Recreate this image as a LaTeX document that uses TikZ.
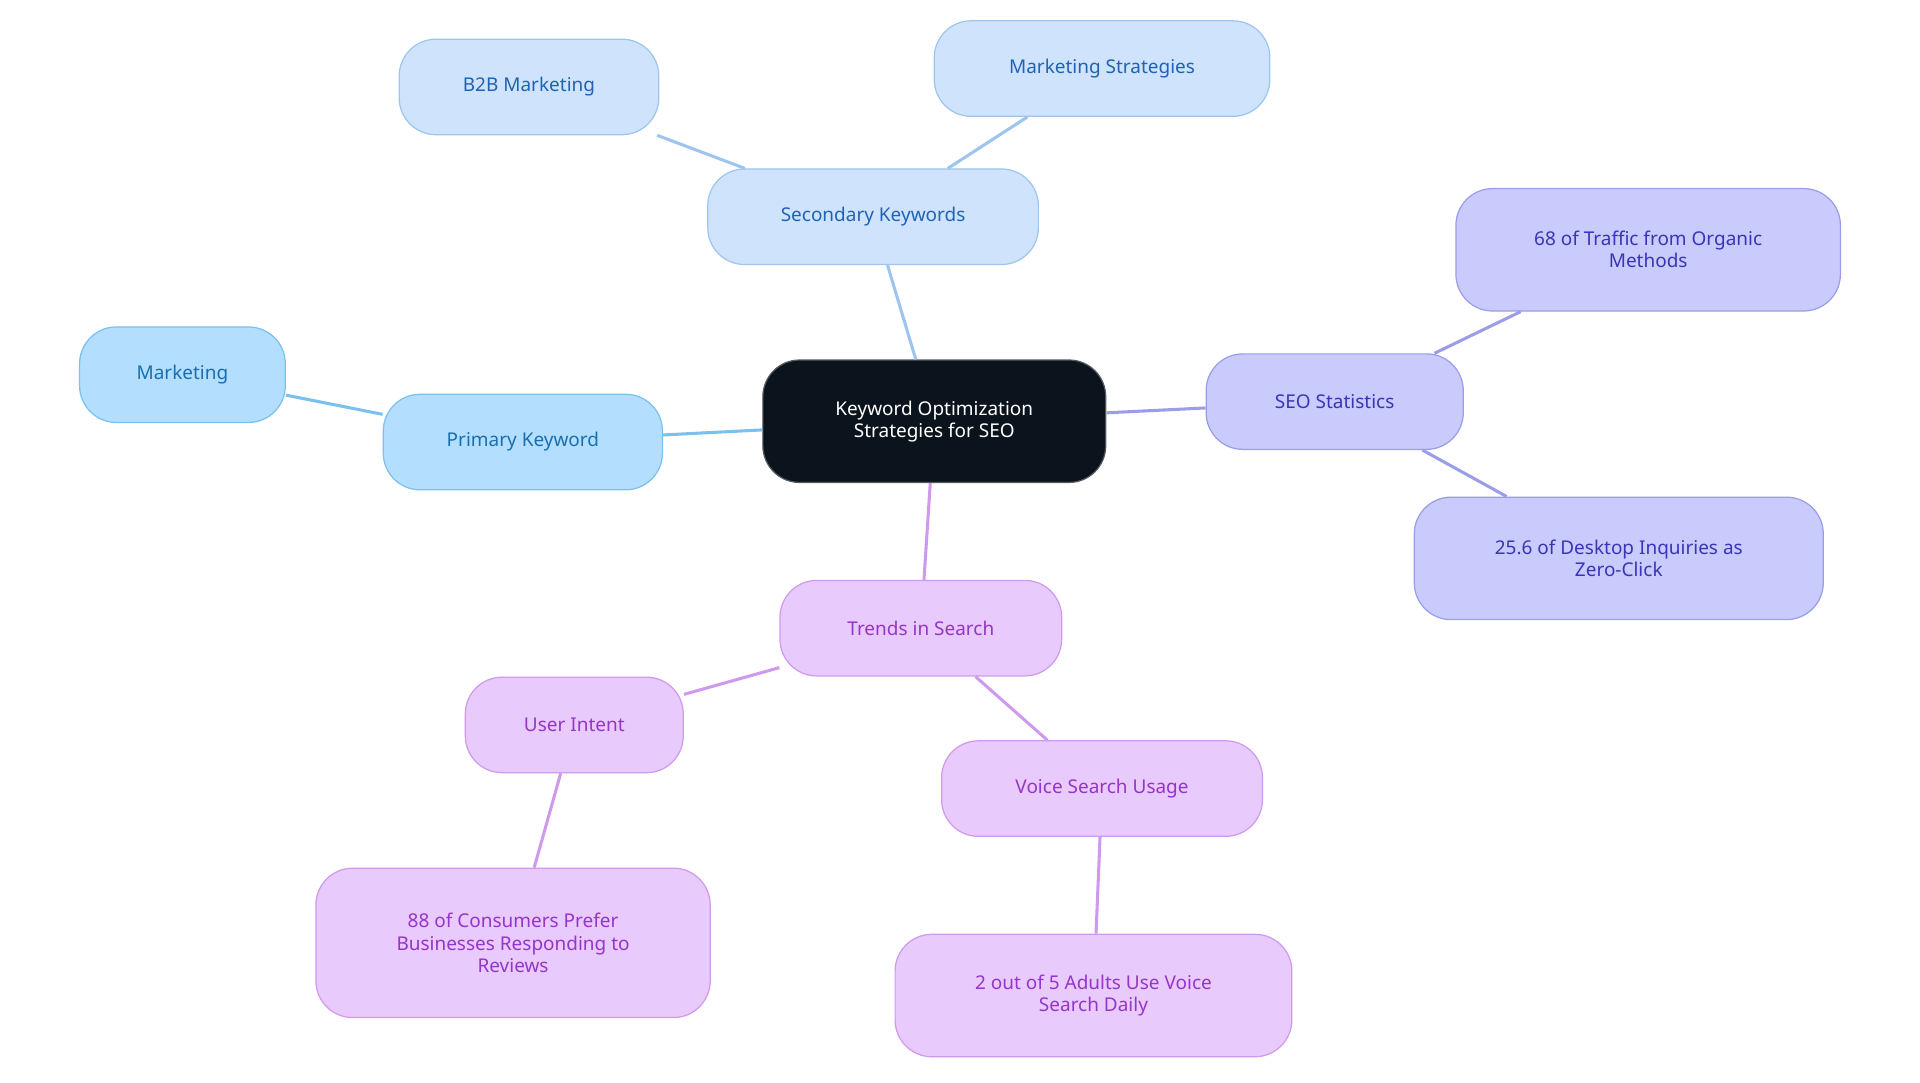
\documentclass[tikz,border=0pt]{standalone}
\usepackage{fontspec}
\setmainfont{Noto Sans}
\begin{document}
\begin{tikzpicture}[x=1pt,y=-1pt,
 base/.style={draw,line width=1pt,rounded corners=30pt,align=center,inner sep=0pt,font=\fontsize{15.5}{18}\selectfont},
 pri/.style={base,fill=priF,draw=priD,text=priT},
 sec/.style={base,fill=secF,draw=secD,text=secT},
 seo/.style={base,fill=seoF,draw=seoD,text=seoT},
 tre/.style={base,fill=treF,draw=treD,text=treT},
 ln/.style={line width=2.5pt}]
\definecolor{priF}{HTML}{B3DEFD}\definecolor{priD}{HTML}{7CC0EE}\definecolor{priT}{HTML}{1A6FB0}
\definecolor{secF}{HTML}{CFE4FC}\definecolor{secD}{HTML}{9DC5EE}\definecolor{secT}{HTML}{1F63B5}
\definecolor{seoF}{HTML}{C8CBFC}\definecolor{seoD}{HTML}{9A9DE8}\definecolor{seoT}{HTML}{3A34B8}
\definecolor{treF}{HTML}{E8CAFC}\definecolor{treD}{HTML}{CF9AEE}\definecolor{treT}{HTML}{9535C9}
\definecolor{ctr}{HTML}{0B141C}
\useasboundingbox (0,0) rectangle (1568,884);
\node[base,fill=ctr,draw=ctr!70,text=white,minimum width=280pt,minimum height=100pt] (c) at (763,344) {Keyword Optimization\\Strategies for SEO};
\node[pri,minimum width=228pt,minimum height=78pt] (p) at (427,361) {Primary Keyword};
\node[pri,minimum width=168pt,minimum height=78pt] (m) at (149,306) {Marketing};
\node[sec,minimum width=270pt,minimum height=78pt] (s) at (713,177) {Secondary Keywords};
\node[sec,minimum width=212pt,minimum height=78pt] (b) at (432,71) {B2B Marketing};
\node[sec,minimum width=274pt,minimum height=78pt] (ms) at (900,56) {Marketing Strategies};
\node[seo,minimum width=210pt,minimum height=78pt] (st) at (1090,328) {SEO Statistics};
\node[seo,minimum width=314pt,minimum height=100pt] (t68) at (1346,204) {68 of Traffic from Organic\\Methods};
\node[seo,minimum width=334pt,minimum height=100pt] (t25) at (1322,456) {25.6 of Desktop Inquiries as\\Zero-Click};
\node[tre,minimum width=230pt,minimum height=78pt] (tr) at (752,513) {Trends in Search};
\node[tre,minimum width=178pt,minimum height=78pt] (ui) at (469,592) {User Intent};
\node[tre,minimum width=262pt,minimum height=78pt] (vs) at (900,644) {Voice Search Usage};
\node[tre,minimum width=322pt,minimum height=122pt] (c88) at (419,770) {88 of Consumers Prefer\\Businesses Responding to\\Reviews};
\node[tre,minimum width=324pt,minimum height=100pt] (a2) at (893,813) {2 out of 5 Adults Use Voice\\Search Daily};
\begin{scope}[on background layer/.style={}]
\end{scope}
\draw[ln,priD] (c) -- (p); \draw[ln,priD] (p) -- (m);
\draw[ln,secD] (c) -- (s); \draw[ln,secD] (s) -- (b); \draw[ln,secD] (s) -- (ms);
\draw[ln,seoD] (c) -- (st); \draw[ln,seoD] (st) -- (t68); \draw[ln,seoD] (st) -- (t25);
\draw[ln,treD] (c) -- (tr); \draw[ln,treD] (tr) -- (ui); \draw[ln,treD] (tr) -- (vs);
\draw[ln,treD] (ui) -- (c88); \draw[ln,treD] (vs) -- (a2);
\end{tikzpicture}
\end{document}
